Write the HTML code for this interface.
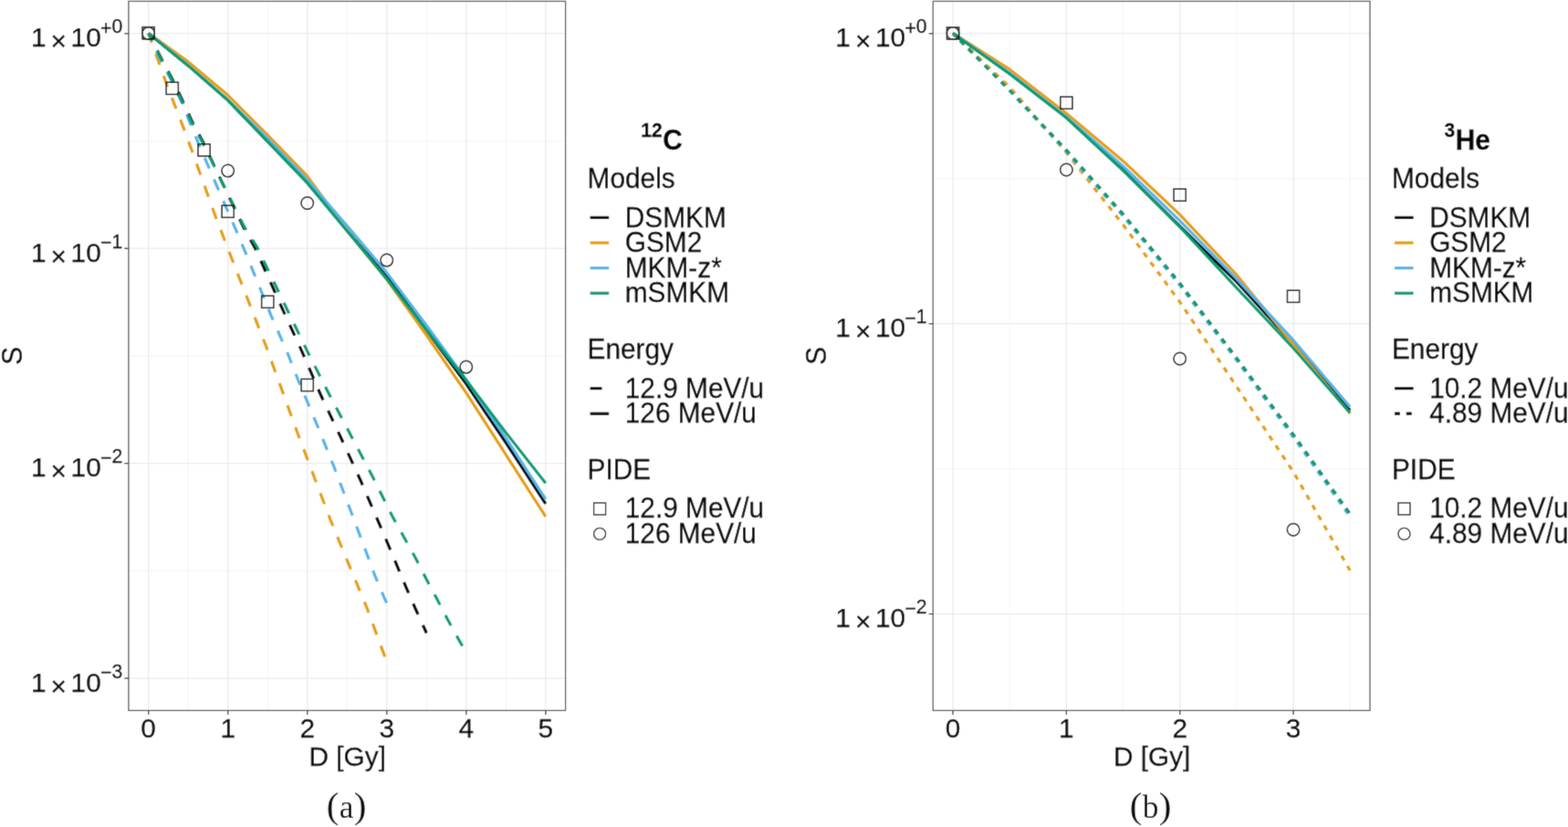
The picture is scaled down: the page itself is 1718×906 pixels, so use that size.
<!DOCTYPE html>
<html><head><meta charset="utf-8"><title>Survival curves</title>
<style>html,body{margin:0;padding:0;background:#fff;width:1718px;height:906px;overflow:hidden}svg{display:block}</style>
</head><body>
<svg width="1718" height="906" viewBox="0 0 1718 906">
<style>
.gM{stroke:#EBEBEB;stroke-width:1.3;fill:none}
.gm{stroke:#F3F3F3;stroke-width:0.9;fill:none}
.ln{fill:none;stroke-width:3.2;stroke-linejoin:round;stroke-linecap:butt}
.dash{stroke-dasharray:12.85 12.85}
.dot{stroke-dasharray:5.95 6.85;stroke-width:3.3}
.bd{fill:none;stroke:#575757;stroke-width:1.3}
.tk{stroke:#333;stroke-width:1.3}
.pt{fill:none;stroke:#151515;stroke-width:1.5}
.lp{fill:none;stroke:#222;stroke-width:1.35}
text{font-family:'Liberation Sans', Arial, Helvetica, sans-serif;fill:#000;stroke:#000;stroke-width:0.25px}
.t{font-size:29.8px}
.s{font-size:21.2px}
.cap{font-family:'Liberation Serif','Times New Roman',serif;font-size:38px;letter-spacing:0.3px;stroke:none}
</style>
<defs><filter id="soft" x="0" y="0" width="1718" height="906" filterUnits="userSpaceOnUse"><feConvolveMatrix order="3" kernelMatrix="0.018 0.135 0.018 0.135 1 0.135 0.018 0.135 0.018" edgeMode="duplicate"/></filter></defs>
<g filter="url(#soft)">
<rect width="1718" height="906" fill="#fff"/>
<line x1="206.18" y1="1.4" x2="206.18" y2="778.4" class="gm"/>
<line x1="293.21" y1="1.4" x2="293.21" y2="778.4" class="gm"/>
<line x1="380.25" y1="1.4" x2="380.25" y2="778.4" class="gm"/>
<line x1="467.29" y1="1.4" x2="467.29" y2="778.4" class="gm"/>
<line x1="554.32" y1="1.4" x2="554.32" y2="778.4" class="gm"/>
<line x1="140.9" y1="154.45" x2="619.6" y2="154.45" class="gm"/>
<line x1="140.9" y1="389.90" x2="619.6" y2="389.90" class="gm"/>
<line x1="140.9" y1="625.35" x2="619.6" y2="625.35" class="gm"/>
<line x1="162.66" y1="1.4" x2="162.66" y2="778.4" class="gM"/>
<line x1="249.70" y1="1.4" x2="249.70" y2="778.4" class="gM"/>
<line x1="336.73" y1="1.4" x2="336.73" y2="778.4" class="gM"/>
<line x1="423.77" y1="1.4" x2="423.77" y2="778.4" class="gM"/>
<line x1="510.80" y1="1.4" x2="510.80" y2="778.4" class="gM"/>
<line x1="597.84" y1="1.4" x2="597.84" y2="778.4" class="gM"/>
<line x1="140.9" y1="36.72" x2="619.6" y2="36.72" class="gM"/>
<line x1="140.9" y1="272.17" x2="619.6" y2="272.17" class="gM"/>
<line x1="140.9" y1="507.63" x2="619.6" y2="507.63" class="gM"/>
<line x1="140.9" y1="743.08" x2="619.6" y2="743.08" class="gM"/>
<polyline points="162.6,36.4 177.4,65.4 189.3,87.6 200.6,111.5 211.2,134.6 223.0,156.6 243.4,200.0 267.3,250.0 279.4,271.6 310.3,340.4 331.4,386.3 351.7,433.3 373.3,479.0 394.9,526.0 415.2,573.0 427.1,600.8 444.9,643.3 455.0,666.5 467.3,693.5" stroke="#000000" class="ln dash" stroke-dashoffset="4.48"/>
<polyline points="162.6,36.4 174.2,68.7 182.8,92.9 192.1,116.8 201.3,140.6 210.2,164.8 235.8,236.3 254.2,284.0 272.4,330.4 291.4,379.0 326.3,475.2 344.1,522.2 361.9,569.1 380.0,613.1 401.6,664.9 419.4,713.1 423.7,724.7" stroke="#E69F00" class="ln dash" stroke-dashoffset="1.79"/>
<polyline points="162.6,36.4 176.0,66.0 188.0,88.6 199.2,112.5 218.1,158.8 258.5,251.9 268.5,275.5 297.1,345.8 315.7,388.3 326.3,415.5 346.7,463.8 365.7,510.7 383.5,557.7 401.2,604.7 410.9,630.9 421.0,654.9 423.7,660.5" stroke="#56B4E9" class="ln dash" stroke-dashoffset="4.31"/>
<polyline points="162.6,36.4 176.8,65.4 188.5,87.6 199.7,111.5 210.3,134.6 222.1,156.6 267.5,248.2 281.7,270.9 314.9,339.6 336.5,384.4 359.4,429.5 383.5,475.2 407.6,520.9 430.4,566.6 455.0,610.8 466.5,633.2 478.9,656.4 490.5,678.8 502.9,701.2 510.8,715.0" stroke="#009E73" class="ln dash" stroke-dashoffset="3.49"/>
<polyline points="162.7,36.4 206.2,71.9 249.7,109.8 293.2,155.0 336.7,200.2 380.2,252.5 423.8,302.7 467.3,361.8 510.8,420.6 554.3,485.0 597.8,551.8" stroke="#000000" class="ln "/>
<polyline points="162.7,36.4 206.2,67.6 249.7,104.3 293.2,147.8 336.7,192.9 380.2,252.5 423.8,306.3 467.3,367.3 510.8,430.4 554.3,498.2 597.8,565.9" stroke="#E69F00" class="ln "/>
<polyline points="162.7,36.4 206.2,71.6 249.7,109.5 293.2,151.8 336.7,197.0 380.2,247.2 423.8,298.9 467.3,356.4 510.8,416.0 554.3,479.8 597.8,546.9" stroke="#56B4E9" class="ln "/>
<polyline points="162.7,36.4 206.2,71.9 249.7,109.8 293.2,155.1 336.7,200.4 380.2,253.0 423.8,305.8 467.3,361.5 510.8,416.6 554.3,473.9 597.8,529.3" stroke="#009E73" class="ln "/>
<rect x="156.06" y="29.60" width="13.2" height="13.2" class="pt"/>
<rect x="182.17" y="90.20" width="13.2" height="13.2" class="pt"/>
<rect x="216.98" y="157.80" width="13.2" height="13.2" class="pt"/>
<rect x="243.10" y="225.10" width="13.2" height="13.2" class="pt"/>
<rect x="286.61" y="324.10" width="13.2" height="13.2" class="pt"/>
<rect x="330.13" y="415.30" width="13.2" height="13.2" class="pt"/>
<circle cx="162.66" cy="36.40" r="6.75" class="pt"/>
<circle cx="249.70" cy="187.10" r="6.75" class="pt"/>
<circle cx="336.73" cy="222.50" r="6.75" class="pt"/>
<circle cx="423.77" cy="285.10" r="6.75" class="pt"/>
<circle cx="510.80" cy="402.10" r="6.75" class="pt"/>
<rect x="140.9" y="1.4" width="478.70" height="777.00" class="bd"/>
<line x1="162.66" y1="778.4" x2="162.66" y2="783.0" class="tk"/>
<line x1="249.70" y1="778.4" x2="249.70" y2="783.0" class="tk"/>
<line x1="336.73" y1="778.4" x2="336.73" y2="783.0" class="tk"/>
<line x1="423.77" y1="778.4" x2="423.77" y2="783.0" class="tk"/>
<line x1="510.80" y1="778.4" x2="510.80" y2="783.0" class="tk"/>
<line x1="597.84" y1="778.4" x2="597.84" y2="783.0" class="tk"/>
<line x1="136.3" y1="36.72" x2="140.9" y2="36.72" class="tk"/>
<line x1="136.3" y1="272.17" x2="140.9" y2="272.17" class="tk"/>
<line x1="136.3" y1="507.63" x2="140.9" y2="507.63" class="tk"/>
<line x1="136.3" y1="743.08" x2="140.9" y2="743.08" class="tk"/>
<line x1="1106.23" y1="1.4" x2="1106.23" y2="778.4" class="gm"/>
<line x1="1230.57" y1="1.4" x2="1230.57" y2="778.4" class="gm"/>
<line x1="1354.90" y1="1.4" x2="1354.90" y2="778.4" class="gm"/>
<line x1="1479.24" y1="1.4" x2="1479.24" y2="778.4" class="gm"/>
<line x1="1022.3" y1="195.68" x2="1501.0" y2="195.68" class="gm"/>
<line x1="1022.3" y1="513.60" x2="1501.0" y2="513.60" class="gm"/>
<line x1="1044.06" y1="1.4" x2="1044.06" y2="778.4" class="gM"/>
<line x1="1168.40" y1="1.4" x2="1168.40" y2="778.4" class="gM"/>
<line x1="1292.73" y1="1.4" x2="1292.73" y2="778.4" class="gM"/>
<line x1="1417.07" y1="1.4" x2="1417.07" y2="778.4" class="gM"/>
<line x1="1022.3" y1="36.72" x2="1501.0" y2="36.72" class="gM"/>
<line x1="1022.3" y1="354.64" x2="1501.0" y2="354.64" class="gM"/>
<line x1="1022.3" y1="672.56" x2="1501.0" y2="672.56" class="gM"/>
<polyline points="1044.1,36.4 1106.2,98.9 1168.4,164.7 1230.6,234.9 1292.7,310.5 1354.9,392.5 1417.1,476.4 1479.2,563.3" stroke="#000000" class="ln dot" stroke-dashoffset="1.62"/>
<polyline points="1044.1,36.4 1106.2,95.3 1168.4,167.2 1230.6,246.3 1292.7,330.8 1354.9,423.5 1417.1,517.0 1479.2,625.0" stroke="#E69F00" class="ln dot" stroke-dashoffset="0.75"/>
<polyline points="1044.1,36.4 1106.2,99.4 1168.4,166.2 1230.6,236.8 1292.7,312.6 1354.9,394.7 1417.1,479.0 1479.2,566.0" stroke="#56B4E9" class="ln dot" stroke-dashoffset="1.86"/>
<polyline points="1044.1,36.4 1106.2,98.9 1168.4,164.7 1230.6,234.9 1292.7,310.5 1354.9,392.5 1417.1,476.4 1479.2,563.3" stroke="#009E73" class="ln dot" stroke-dashoffset="1.62"/>
<polyline points="1044.1,36.4 1106.2,80.6 1168.4,128.8 1230.6,186.5 1292.7,248.0 1354.9,308.7 1417.1,376.8 1479.2,449.6" stroke="#000000" class="ln "/>
<polyline points="1044.1,36.4 1106.2,75.9 1168.4,124.2 1230.6,176.4 1292.7,235.2 1354.9,301.0 1417.1,377.6 1479.2,453.0" stroke="#E69F00" class="ln "/>
<polyline points="1044.1,36.4 1106.2,80.0 1168.4,128.0 1230.6,182.1 1292.7,241.8 1354.9,305.5 1417.1,372.7 1479.2,445.9" stroke="#56B4E9" class="ln "/>
<polyline points="1044.1,36.4 1106.2,81.0 1168.4,129.1 1230.6,186.9 1292.7,248.6 1354.9,315.3 1417.1,381.5 1479.2,452.3" stroke="#009E73" class="ln "/>
<rect x="1037.46" y="29.80" width="13.2" height="13.2" class="pt"/>
<rect x="1161.80" y="106.10" width="13.2" height="13.2" class="pt"/>
<rect x="1286.13" y="207.00" width="13.2" height="13.2" class="pt"/>
<rect x="1410.47" y="318.10" width="13.2" height="13.2" class="pt"/>
<circle cx="1044.06" cy="36.40" r="6.75" class="pt"/>
<circle cx="1168.40" cy="186.00" r="6.75" class="pt"/>
<circle cx="1292.73" cy="393.00" r="6.75" class="pt"/>
<circle cx="1417.07" cy="580.30" r="6.75" class="pt"/>
<rect x="1022.3" y="1.4" width="478.70" height="777.00" class="bd"/>
<line x1="1044.06" y1="778.4" x2="1044.06" y2="783.0" class="tk"/>
<line x1="1168.40" y1="778.4" x2="1168.40" y2="783.0" class="tk"/>
<line x1="1292.73" y1="778.4" x2="1292.73" y2="783.0" class="tk"/>
<line x1="1417.07" y1="778.4" x2="1417.07" y2="783.0" class="tk"/>
<line x1="1017.6999999999999" y1="36.72" x2="1022.3" y2="36.72" class="tk"/>
<line x1="1017.6999999999999" y1="354.64" x2="1022.3" y2="354.64" class="tk"/>
<line x1="1017.6999999999999" y1="672.56" x2="1022.3" y2="672.56" class="tk"/>
<text class="t" x="33.90" y="51.32">1</text>
<text class="t" x="55.50" y="55.32">&#215;</text>
<text class="t" x="77.60" y="51.32">10</text>
<text class="s" x="110.00" y="36.42" transform="matrix(1 0 0 1.03 0 -1.09)"><tspan dy="1.5">+</tspan><tspan dy="-1.5">0</tspan></text>
<text class="t" x="33.90" y="286.77">1</text>
<text class="t" x="55.50" y="290.77">&#215;</text>
<text class="t" x="77.60" y="286.77">10</text>
<text class="s" x="110.00" y="271.87" transform="matrix(1 0 0 1.03 0 -8.16)"><tspan dy="1.5">&#8722;</tspan><tspan dy="-1.5">1</tspan></text>
<text class="t" x="33.90" y="522.23">1</text>
<text class="t" x="55.50" y="526.23">&#215;</text>
<text class="t" x="77.60" y="522.23">10</text>
<text class="s" x="110.00" y="507.33" transform="matrix(1 0 0 1.03 0 -15.22)"><tspan dy="1.5">&#8722;</tspan><tspan dy="-1.5">2</tspan></text>
<text class="t" x="33.90" y="757.68">1</text>
<text class="t" x="55.50" y="761.68">&#215;</text>
<text class="t" x="77.60" y="757.68">10</text>
<text class="s" x="110.00" y="742.78" transform="matrix(1 0 0 1.03 0 -22.28)"><tspan dy="1.5">&#8722;</tspan><tspan dy="-1.5">3</tspan></text>
<text class="t" x="915.30" y="51.32">1</text>
<text class="t" x="936.90" y="55.32">&#215;</text>
<text class="t" x="959.00" y="51.32">10</text>
<text class="s" x="991.40" y="36.42" transform="matrix(1 0 0 1.03 0 -1.09)"><tspan dy="1.5">+</tspan><tspan dy="-1.5">0</tspan></text>
<text class="t" x="915.30" y="369.24">1</text>
<text class="t" x="936.90" y="373.24">&#215;</text>
<text class="t" x="959.00" y="369.24">10</text>
<text class="s" x="991.40" y="354.34" transform="matrix(1 0 0 1.03 0 -10.63)"><tspan dy="1.5">&#8722;</tspan><tspan dy="-1.5">1</tspan></text>
<text class="t" x="915.30" y="687.16">1</text>
<text class="t" x="936.90" y="691.16">&#215;</text>
<text class="t" x="959.00" y="687.16">10</text>
<text class="s" x="991.40" y="672.26" transform="matrix(1 0 0 1.03 0 -20.17)"><tspan dy="1.5">&#8722;</tspan><tspan dy="-1.5">2</tspan></text>
<text class="t" x="162.66" y="808.00" text-anchor="middle" transform="matrix(1 0 0 1.02 0 -16.16)">0</text>
<text class="t" x="249.70" y="808.00" text-anchor="middle" transform="matrix(1 0 0 1.02 0 -16.16)">1</text>
<text class="t" x="336.73" y="808.00" text-anchor="middle" transform="matrix(1 0 0 1.02 0 -16.16)">2</text>
<text class="t" x="423.77" y="808.00" text-anchor="middle" transform="matrix(1 0 0 1.02 0 -16.16)">3</text>
<text class="t" x="510.80" y="808.00" text-anchor="middle" transform="matrix(1 0 0 1.02 0 -16.16)">4</text>
<text class="t" x="597.84" y="808.00" text-anchor="middle" transform="matrix(1 0 0 1.02 0 -16.16)">5</text>
<text class="t" x="380.75" y="839.40" text-anchor="middle" transform="matrix(1 0 0 1.02 0 -16.79)">D [Gy]</text>
<text class="t" x="0" y="0" text-anchor="middle" transform="translate(23.5 389.9) rotate(-90) scale(1 1.08)">S</text>
<text class="t" x="1044.06" y="808.00" text-anchor="middle" transform="matrix(1 0 0 1.02 0 -16.16)">0</text>
<text class="t" x="1168.40" y="808.00" text-anchor="middle" transform="matrix(1 0 0 1.02 0 -16.16)">1</text>
<text class="t" x="1292.73" y="808.00" text-anchor="middle" transform="matrix(1 0 0 1.02 0 -16.16)">2</text>
<text class="t" x="1417.07" y="808.00" text-anchor="middle" transform="matrix(1 0 0 1.02 0 -16.16)">3</text>
<text class="t" x="1262.15" y="839.40" text-anchor="middle" transform="matrix(1 0 0 1.02 0 -16.79)">D [Gy]</text>
<text class="t" x="0" y="0" text-anchor="middle" transform="translate(904.9 389.9) rotate(-90) scale(1 1.08)">S</text>
<text class="cap" x="379.70" y="896.00" text-anchor="middle"><tspan style="font-size:41px">(</tspan><tspan style="font-size:35.5px">a</tspan><tspan style="font-size:41px">)</tspan></text>
<text class="cap" x="1260.80" y="896.00" text-anchor="middle"><tspan style="font-size:41px">(</tspan><tspan style="font-size:35.5px">b</tspan><tspan style="font-size:41px">)</tspan></text>
<text x="725.0" y="164.3" text-anchor="middle" style="font-weight:bold" transform="matrix(1 0 0 1.03 0 -4.93)"><tspan style="font-size:21px" dy="-13.6">12</tspan><tspan class="t" dx="0.6" dy="13.6">C</tspan></text>
<text class="t" x="643.60" y="205.80" transform="matrix(1 0 0 1.03 0 -6.17)">Models</text>
<line x1="646.6" y1="238.4" x2="667.2" y2="238.4" stroke="#000000" class="ln"/>
<text class="t" x="684.80" y="248.60" transform="matrix(1 0 0 1.03 0 -7.46)">DSMKM</text>
<line x1="646.6" y1="266.0" x2="667.2" y2="266.0" stroke="#E69F00" class="ln"/>
<text class="t" x="684.80" y="276.20" transform="matrix(1 0 0 1.03 0 -8.29)">GSM2</text>
<line x1="646.6" y1="293.6" x2="667.2" y2="293.6" stroke="#56B4E9" class="ln"/>
<text class="t" x="684.80" y="303.80" transform="matrix(1 0 0 1.03 0 -9.11)">MKM-z*</text>
<line x1="646.6" y1="321.2" x2="667.2" y2="321.2" stroke="#009E73" class="ln"/>
<text class="t" x="684.80" y="331.40" transform="matrix(1 0 0 1.03 0 -9.94)">mSMKM</text>
<text class="t" x="643.60" y="393.40" transform="matrix(1 0 0 1.03 0 -11.80)">Energy</text>
<line x1="646.6" y1="425.5" x2="667.2" y2="425.5" stroke="#000" class="ln dash"/>
<text class="t" x="684.80" y="435.70" transform="matrix(1 0 0 1.03 0 -13.07)">12.9 MeV/u</text>
<line x1="646.6" y1="453.2" x2="667.2" y2="453.2" stroke="#000" class="ln "/>
<text class="t" x="684.80" y="463.40" transform="matrix(1 0 0 1.03 0 -13.90)">126 MeV/u</text>
<text class="t" x="643.60" y="524.60" transform="matrix(1 0 0 1.03 0 -15.74)">PIDE</text>
<rect x="650.60" y="550.90" width="13.0" height="13.0" class="lp"/>
<circle cx="657.10" cy="584.90" r="6.5" class="lp"/>
<text class="t" x="684.80" y="567.40" transform="matrix(1 0 0 1.03 0 -17.02)">12.9 MeV/u</text>
<text class="t" x="684.80" y="595.00" transform="matrix(1 0 0 1.03 0 -17.85)">126 MeV/u</text>
<text x="1607.7" y="164.3" text-anchor="middle" style="font-weight:bold" transform="matrix(1 0 0 1.03 0 -4.93)"><tspan style="font-size:21px" dy="-13.6">3</tspan><tspan class="t" dx="0.6" dy="13.6">He</tspan></text>
<text class="t" x="1525.00" y="205.80" transform="matrix(1 0 0 1.03 0 -6.17)">Models</text>
<line x1="1528.0" y1="238.4" x2="1548.6" y2="238.4" stroke="#000000" class="ln"/>
<text class="t" x="1566.20" y="248.60" transform="matrix(1 0 0 1.03 0 -7.46)">DSMKM</text>
<line x1="1528.0" y1="266.0" x2="1548.6" y2="266.0" stroke="#E69F00" class="ln"/>
<text class="t" x="1566.20" y="276.20" transform="matrix(1 0 0 1.03 0 -8.29)">GSM2</text>
<line x1="1528.0" y1="293.6" x2="1548.6" y2="293.6" stroke="#56B4E9" class="ln"/>
<text class="t" x="1566.20" y="303.80" transform="matrix(1 0 0 1.03 0 -9.11)">MKM-z*</text>
<line x1="1528.0" y1="321.2" x2="1548.6" y2="321.2" stroke="#009E73" class="ln"/>
<text class="t" x="1566.20" y="331.40" transform="matrix(1 0 0 1.03 0 -9.94)">mSMKM</text>
<text class="t" x="1525.00" y="393.40" transform="matrix(1 0 0 1.03 0 -11.80)">Energy</text>
<line x1="1528.0" y1="425.5" x2="1548.6" y2="425.5" stroke="#000" class="ln "/>
<text class="t" x="1566.20" y="435.70" transform="matrix(1 0 0 1.03 0 -13.07)">10.2 MeV/u</text>
<line x1="1528.0" y1="453.2" x2="1548.6" y2="453.2" stroke="#000" class="ln dot"/>
<text class="t" x="1566.20" y="463.40" transform="matrix(1 0 0 1.03 0 -13.90)">4.89 MeV/u</text>
<text class="t" x="1525.00" y="524.60" transform="matrix(1 0 0 1.03 0 -15.74)">PIDE</text>
<rect x="1532.00" y="550.90" width="13.0" height="13.0" class="lp"/>
<circle cx="1538.50" cy="584.90" r="6.5" class="lp"/>
<text class="t" x="1566.20" y="567.40" transform="matrix(1 0 0 1.03 0 -17.02)">10.2 MeV/u</text>
<text class="t" x="1566.20" y="595.00" transform="matrix(1 0 0 1.03 0 -17.85)">4.89 MeV/u</text>
</g>
</svg>
</body></html>
